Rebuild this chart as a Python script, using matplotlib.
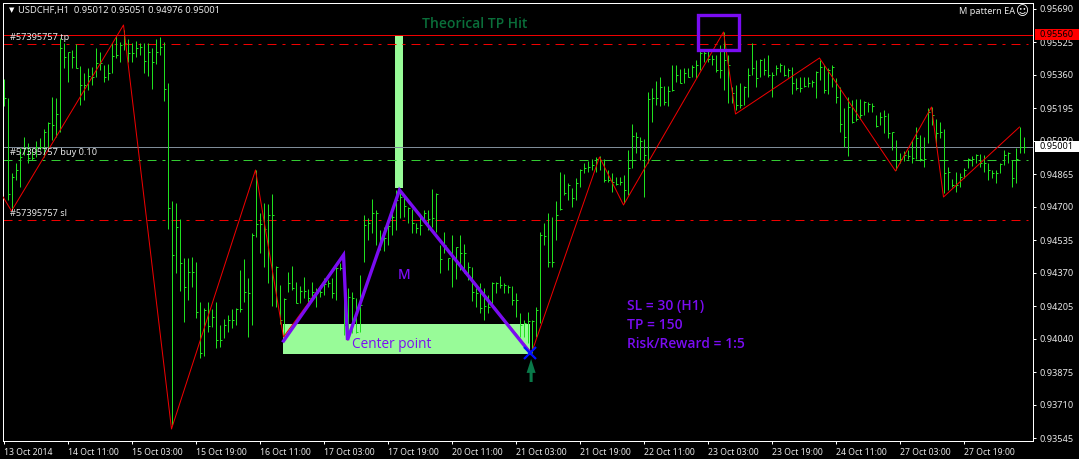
import matplotlib
matplotlib.use("Agg")
import matplotlib.pyplot as plt
from matplotlib.patches import Rectangle
import numpy as np

W, H = 1079, 459

# Hourly bars, prices in points (price * 100000)
high = [95340,95245,94870,94920,94995,95050,95020,94995,95030,95045,
        95090,95125,95250,95245,95545,95520,95475,95485,95515,95405,
        95370,95395,95400,95495,95475,95410,95415,95520,95555,95525,
        95585,95540,95520,95530,95520,95520,95520,95495,95540,95550,
        95525,95320,94730,94720,94640,94445,94445,94450,94425,94225,
        94195,94225,94190,94225,94110,94140,94160,94190,94195,94385,
        94440,94345,94570,94885,94670,94720,94715,94765,94405,94310,
        94245,94375,94405,94325,94305,94350,94290,94325,94295,94310,
        94345,94335,94345,94400,94420,94450,94295,94275,94245,94360,
        94660,94645,94740,94685,94585,94600,94640,94670,94785,94770,
        94760,94700,94690,94620,94650,94685,94685,94790,94770,94510,
        94575,94445,94560,94500,94560,94515,94425,94400,94295,94320,
        94295,94260,94325,94325,94355,94320,94310,94305,94270,94170,
        94135,94175,94135,94200,94575,94620,94670,94650,94730,94875,
        94865,94820,94795,94845,94890,94920,94930,94940,94950,94955,
        94940,94885,94870,94850,94850,94860,94985,95115,95075,95050,
        95040,95275,95295,95330,95350,95305,95305,95410,95410,95390,
        95395,95395,95410,95435,95485,95485,95485,95460,95460,95510,
        95575,95460,95300,95310,95320,95305,95395,95520,95435,95440,
        95445,95460,95375,95410,95420,95410,95395,95400,95345,95350,
        95350,95350,95335,95380,95435,95410,95395,95410,95345,95300,
        95195,95250,95235,95240,95240,95230,95225,95220,95160,95175,
        95185,95170,95075,95035,94970,94980,94985,95035,95100,95060,
        95050,95195,95200,95140,95125,95090,94900,94840,94875,94870,
        94895,94945,94955,94965,94965,94960,94920,94885,94885,94920,
        94985,94975,94935,94995,95100,95050]
low = [95205,94735,94685,94835,94800,94960,94920,94935,94950,94985,
       94950,95000,95035,95050,95075,95395,95325,95395,95395,95210,
       95235,95285,95310,95350,95385,95325,95335,95370,95445,95425,
       95485,95425,95425,95450,95460,95370,95355,95290,95415,95460,
       95230,94590,93610,94370,94280,94125,94235,94300,94145,93945,
       93955,94075,94100,93995,94000,94045,94075,94095,94110,94175,
       94225,94050,94110,94550,94470,94400,94320,94205,94200,94115,
       94050,94275,94285,94220,94220,94245,94210,94245,94200,94250,
       94260,94300,94245,94235,94385,94060,94060,94070,94070,94075,
       94425,94535,94570,94510,94485,94480,94510,94560,94585,94645,
       94650,94620,94570,94570,94560,94625,94585,94600,94575,94370,
       94470,94385,94300,94340,94385,94370,94335,94230,94200,94170,
       94135,94170,94200,94270,94295,94270,94270,94210,94150,94050,
       94050,94020,93970,94050,94120,94510,94400,94400,94535,94685,
       94760,94735,94700,94735,94800,94870,94875,94885,94875,94885,
       94825,94825,94775,94810,94810,94720,94760,94895,94970,94935,
       94750,94920,95125,95210,95205,95210,95205,95280,95325,95320,
       95320,95350,95350,95345,95385,95425,95425,95410,95375,95345,
       95285,95220,95220,95185,95195,95210,95250,95360,95300,95350,
       95360,95350,95250,95360,95375,95355,95350,95265,95285,95275,
       95300,95300,95300,95245,95335,95270,95265,95300,95220,95075,
       95000,94955,95120,95130,95140,95160,95175,95175,95100,95110,
       95070,95045,94985,94885,94920,94930,94940,94920,94940,94930,
       94900,95020,95110,95000,95045,94770,94785,94800,94775,94800,
       94845,94895,94905,94920,94900,94875,94835,94845,94820,94870,
       94910,94920,94800,94820,94970,94970]
close = [95245,94765,94850,94885,94950,94995,94945,94945,95000,95000,
         95075,95120,95110,95165,95495,95450,95475,95450,95395,95310,
         95310,95355,95350,95420,95420,95350,95370,95455,95460,95510,
         95520,95470,95470,95495,95500,95430,95475,95425,95475,95500,
         95290,94695,94460,94600,94420,94300,94375,94375,94175,93970,
         94185,94105,94150,94035,94035,94110,94135,94135,94190,94190,
         94275,94270,94560,94615,94615,94590,94660,94660,94400,94135,
         94240,94320,94295,94220,94280,94280,94245,94275,94270,94275,
         94315,94320,94270,94395,94395,94110,94250,94245,94075,94210,
         94610,94620,94670,94670,94535,94545,94605,94650,94735,94750,
         94705,94695,94620,94595,94610,94670,94640,94645,94765,94440,
         94510,94445,94450,94500,94470,94470,94400,94275,94270,94195,
         94205,94200,94320,94320,94310,94310,94300,94235,94235,94110,
         94120,94130,94130,94185,94560,94555,94425,94425,94660,94690,
         94770,94810,94745,94820,94885,94895,94900,94910,94940,94935,
         94835,94835,94825,94815,94825,94785,94895,95055,95050,95030,
         94960,95240,95245,95245,95300,95225,95280,95285,95360,95320,
         95370,95350,95400,95410,95470,95470,95440,95440,95385,95385,
         95435,95410,95270,95210,95210,95300,95360,95395,95345,95435,
         95385,95360,95360,95395,95410,95360,95385,95320,95295,95295,
         95305,95320,95325,95375,95400,95285,95385,95400,95250,95115,
         95050,95200,95125,95140,95160,95225,95215,95205,95105,95150,
         95155,95070,95075,94935,94940,94960,94955,94945,95045,94940,
         94940,95175,95160,95070,95075,94870,94875,94810,94810,94850,
         94885,94940,94940,94960,94920,94920,94885,94870,94870,94915,
         94960,94970,94845,94940,95000,95000]

# ZigZag indicator
zig_i = [-0.1, 2, 30, 42, 63, 70, 85, 86, 99, 132, 149, 155, 180, 183, 204, 223, 232, 235, 254]
zig_p = [94750, 94680, 95610, 93590, 94885, 94050, 94460, 94035, 94785, 93970,
         94950, 94710, 95575, 95165, 95445, 94880, 95200, 94750, 95100]

# hand drawn M
m_i = [70, 85, 86, 99, 131.7]
m_p = [94030, 94460, 94035, 94785, 93970]

tp_price = 95560
last_price = 95001
tp_dash = 95517
buy_dash = 94937
sl_dash = 94637

price_ticks = [95690, 95525, 95360, 95195, 95030, 94865, 94700, 94535,
               94370, 94205, 94040, 93875, 93710, 93545]
date_labels = ["13 Oct 2014", "14 Oct 11:00", "15 Oct 03:00", "15 Oct 19:00",
               "16 Oct 11:00", "17 Oct 03:00", "17 Oct 19:00", "20 Oct 11:00",
               "21 Oct 03:00", "21 Oct 19:00", "22 Oct 11:00", "23 Oct 03:00",
               "23 Oct 19:00", "24 Oct 11:00", "27 Oct 03:00", "27 Oct 19:00"]

plt.rcParams["font.family"] = ["Noto Sans", "DejaVu Sans"]
PURPLE = "#7a0cf2"
LIGHT = "#98fb98"
BAR = "#1fe01f"
TXT = "#e8e8e8"
px = 0.72  # one pixel in points at dpi 100

fig = plt.figure(figsize=(W / 100, H / 100), dpi=100, facecolor="black")
ax = fig.add_axes([3 / W, 1 - 441 / H, 1030 / W, 438.5 / H], facecolor="black")
ax.set_xlim(-0.125, 257.375)
ax.set_ylim(93530, 95722.5)

idx = np.arange(len(high))
hi, lo, cl = np.array(high), np.array(low), np.array(close)

# zones
ax.add_patch(Rectangle((69.9, 93965), 61.7, 150, fc=LIGHT, ec="none", zorder=1))
ax.add_patch(Rectangle((97.9, 94795), 2, 760, fc=LIGHT, ec="none", zorder=1))

# order lines
ax.axhline(tp_price, color="#f00000", lw=px, zorder=2)
ax.axhline(last_price, color="#7f8c99", lw=px, zorder=2)
dash = (0, (9, 6, 3, 6))
ax.plot([-0.1, 256], [tp_dash, tp_dash], color="#f00000", lw=px, ls=dash, zorder=2)
ax.plot([-0.1, 256], [buy_dash, buy_dash], color="#33cc33", lw=px, ls=dash, zorder=2)
ax.plot([-0.1, 256], [sl_dash, sl_dash], color="#f00000", lw=px, ls=dash, zorder=2)

# bars, close tick on the right side only
ax.vlines(idx, lo, hi, color=BAR, lw=px, zorder=3)
ax.hlines(cl, idx, idx + 0.5, color=BAR, lw=px, zorder=3)

# zigzag and M
ax.plot(zig_i, zig_p, color="#f00000", lw=px, zorder=4)
ax.plot(m_i, m_p, color=PURPLE, lw=2.4, zorder=5, solid_joinstyle="miter")
ax.add_patch(Rectangle((173.6, 95485), 10.3, 175, fc="none", ec=PURPLE, lw=2.4, zorder=5))
ax.plot([131.7], [93970], marker="x", ms=8, mew=1.6, color="#0010ff", zorder=6)
ax.annotate("", xy=(131.9, 93940), xytext=(131.9, 93825), zorder=6,
            arrowprops=dict(facecolor="#0a7a4a", edgecolor="none", width=2.2,
                            headwidth=6.5, headlength=10, shrink=0))

# axes
for s in ax.spines.values():
    s.set_color("white")
    s.set_linewidth(px)
ax.yaxis.tick_right()
ax.set_yticks(price_ticks)
ax.set_yticklabels([f"{p / 100000:.5f}" for p in price_ticks])
ax.set_xticks(np.arange(0, 16 * len(date_labels), 16))
ax.set_xticklabels(date_labels, ha="left")
ax.tick_params(colors="white", labelcolor=TXT, labelsize=6.6, length=2.2, width=px)
ax.tick_params(axis="x", pad=2.5, labelsize=6.25)
ax.tick_params(axis="y", pad=2.2)


def put(x, y, s, **kw):
    kw.setdefault("color", TXT)
    kw.setdefault("fontsize", 6.6)
    return fig.text(x / W, 1 - y / H, s, va="center", zorder=10, **kw)


put(8.5, 10.5, "▼", fontsize=5, family="DejaVu Sans", color="white")
put(18, 10.5, "USDCHF,H1  0.95012 0.95051 0.94976 0.95001", fontsize=6.72)
put(959, 12, "M pattern EA")
put(1016, 12, "☺", fontsize=9, family="DejaVu Sans", color="white")
put(10, 38, "#57395757 tp")
put(10, 153, "#57395757 buy 0.10")
put(10, 213.5, "#57395757 sl")

# price tags
fig.add_artist(Rectangle((1035 / W, 1 - 40 / H), 44 / W, 11 / H, fc="#ff0000", ec="none",
                         transform=fig.transFigure, zorder=8))
fig.add_artist(Rectangle((1035 / W, 1 - 152 / H), 44 / W, 11 / H, fc="white", ec="none",
                         transform=fig.transFigure, zorder=8))
put(1039, 34.5, f"{tp_price / 100000:.5f}", color="black")
put(1039, 146.5, f"{last_price / 100000:.5f}", color="black")

# notes
note = dict(color=PURPLE, fontsize=10, family="Open Sans", fontweight="semibold")
put(422, 24, "Theorical TP Hit", **{**note, "color": "#0a6e3a"})
put(398, 275, "M", **note)
put(352, 345, "Center point", color=PURPLE, fontsize=9.8, family="Open Sans")
put(627, 306, "SL = 30 (H1)", **note)
put(627, 325, "TP = 150", **note)
put(627, 344, "Risk/Reward = 1:5", **note)

fig.savefig("out.png", dpi=100, facecolor="black")
